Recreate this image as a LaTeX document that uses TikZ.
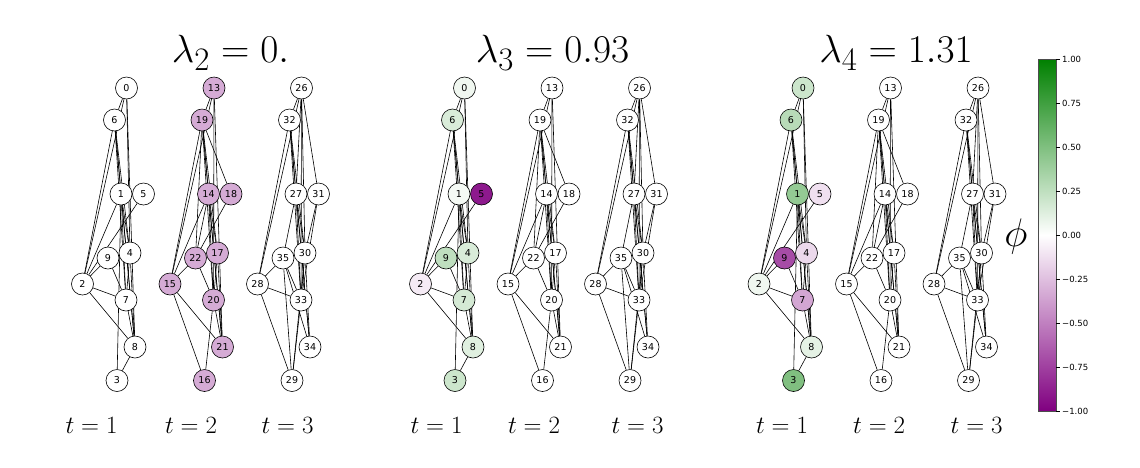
\documentclass[tikz,border=0pt]{standalone}
\usepackage{fontspec}
\newfontfamily\dejavu{DejaVu Sans}
\usetikzlibrary{backgrounds}
\definecolor{purp}{RGB}{128,0,128}
\definecolor{grn}{RGB}{0,128,0}
\newcommand\setfill[2]{\expandafter\def\csname nf#1\endcsname{#2}}
\setfill{A13}{purp!33}\setfill{A14}{purp!33}\setfill{A15}{purp!33}\setfill{A16}{purp!33}\setfill{A17}{purp!33}
\setfill{A18}{purp!33}\setfill{A19}{purp!33}\setfill{A20}{purp!33}\setfill{A21}{purp!33}\setfill{A22}{purp!33}
\setfill{B0}{grn!6}\setfill{B6}{grn!15}\setfill{B1}{grn!4}\setfill{B5}{purp!90}\setfill{B9}{grn!25}
\setfill{B4}{grn!15}\setfill{B2}{purp!8}\setfill{B7}{grn!17}\setfill{B8}{grn!12}\setfill{B3}{grn!20}
\setfill{C0}{grn!20}\setfill{C6}{grn!28}\setfill{C1}{grn!42}\setfill{C5}{purp!12}\setfill{C9}{purp!70}
\setfill{C4}{purp!15}\setfill{C2}{grn!6}\setfill{C7}{purp!35}\setfill{C8}{grn!10}\setfill{C3}{grn!50}
\begin{document}
\begin{tikzpicture}[x=1pt,y=-1pt,
  vtx/.style={circle,draw=black,line width=0.6pt,minimum size=22pt,inner sep=0pt,font=\dejavu\fontsize{9.5}{9.5}\selectfont},
  edge/.style={line width=0.6pt,black},
  ttl/.style={font=\Huge,scale=1.58,anchor=base},
  tlab/.style={font=\Huge,anchor=base},
  tick/.style={font=\dejavu\fontsize{8.5}{8.5}\selectfont,anchor=west,inner sep=0pt}]
\useasboundingbox (0,0) rectangle (1140,467);
\foreach \P/\po in {A/0,B/338,C/676.5}{
  \foreach \k in {0,1,2}{
    \foreach \n/\x/\y in {0/126.5/88,6/114.5/120,1/121/194,5/143.5/194,9/108/258,4/130/253,2/82.5/284,7/126/300,8/135/347,3/117/380.5}{
      \pgfmathtruncatemacro\lab{\n+13*\k}
      \edef\nm{\P\lab}
      \ifcsname nf\nm\endcsname \edef\fc{\csname nf\nm\endcsname}\else\def\fc{white}\fi
      \node[vtx,fill=\fc] (\nm) at ({\x+\po+87.5*\k},\y) {\lab};
    }
  }
}
\begin{scope}[on background layer]
\foreach \P in {A,B,C}{
  \foreach \a/\b in {0/6,0/2,6/2,0/4,0/8,6/1,6/4,6/7,6/8,1/2,1/3,1/7,1/8,1/4,5/2,9/2,9/7,9/4,2/7,2/8,4/7,4/8,7/8,8/3,
    13/19,13/15,19/15,13/20,13/21,19/14,19/18,19/17,19/20,19/21,19/22,14/15,14/22,14/17,14/20,14/21,18/22,22/15,22/20,15/21,15/16,20/16,17/20,17/21,20/21,
    26/32,26/28,32/28,26/27,26/30,26/31,26/33,32/27,32/30,32/33,32/34,27/35,27/30,27/33,27/34,31/30,31/33,35/28,35/33,35/34,35/29,28/33,28/29,30/33,30/29,33/29,30/34}{
    \draw[edge] (\P\a) -- (\P\b);
  }
}
\end{scope}
\node[ttl] (ta) at (230.5,62.5) {$\lambda_2 = 0.$};
\node[ttl] (tb) at (552.5,62.5) {$\lambda_3 = 0.93$};
\node[ttl] (tc) at (896,62.5) {$\lambda_4 = 1.31$};
\foreach \x/\t in {91.5/1,191/2,287.5/3,436.5/1,534/2,637.5/3,782/1,879/2,976.5/3}{
  \node[tlab] at (\x,433) {$t=\t$};
}
\shade[bottom color=purp, top color=grn, middle color=white] (1038,59) rectangle (1056,411);
\draw[black!70,line width=0.4pt] (1038,59) rectangle (1056,411);
\foreach \v/\l in {0/1.00,1/0.75,2/0.50,3/0.25,4/0.00,5/−0.25,6/−0.50,7/−0.75,8/−1.00}{
  \draw[line width=0.4pt] (1056,59+44*\v) -- (1059.5,59+44*\v);
  \node[tick] at (1062,59+44*\v) {\l};
}
\node[font=\Huge,scale=1.6] (phi) at (1016,237) {$\phi$};
\end{tikzpicture}
\end{document}
